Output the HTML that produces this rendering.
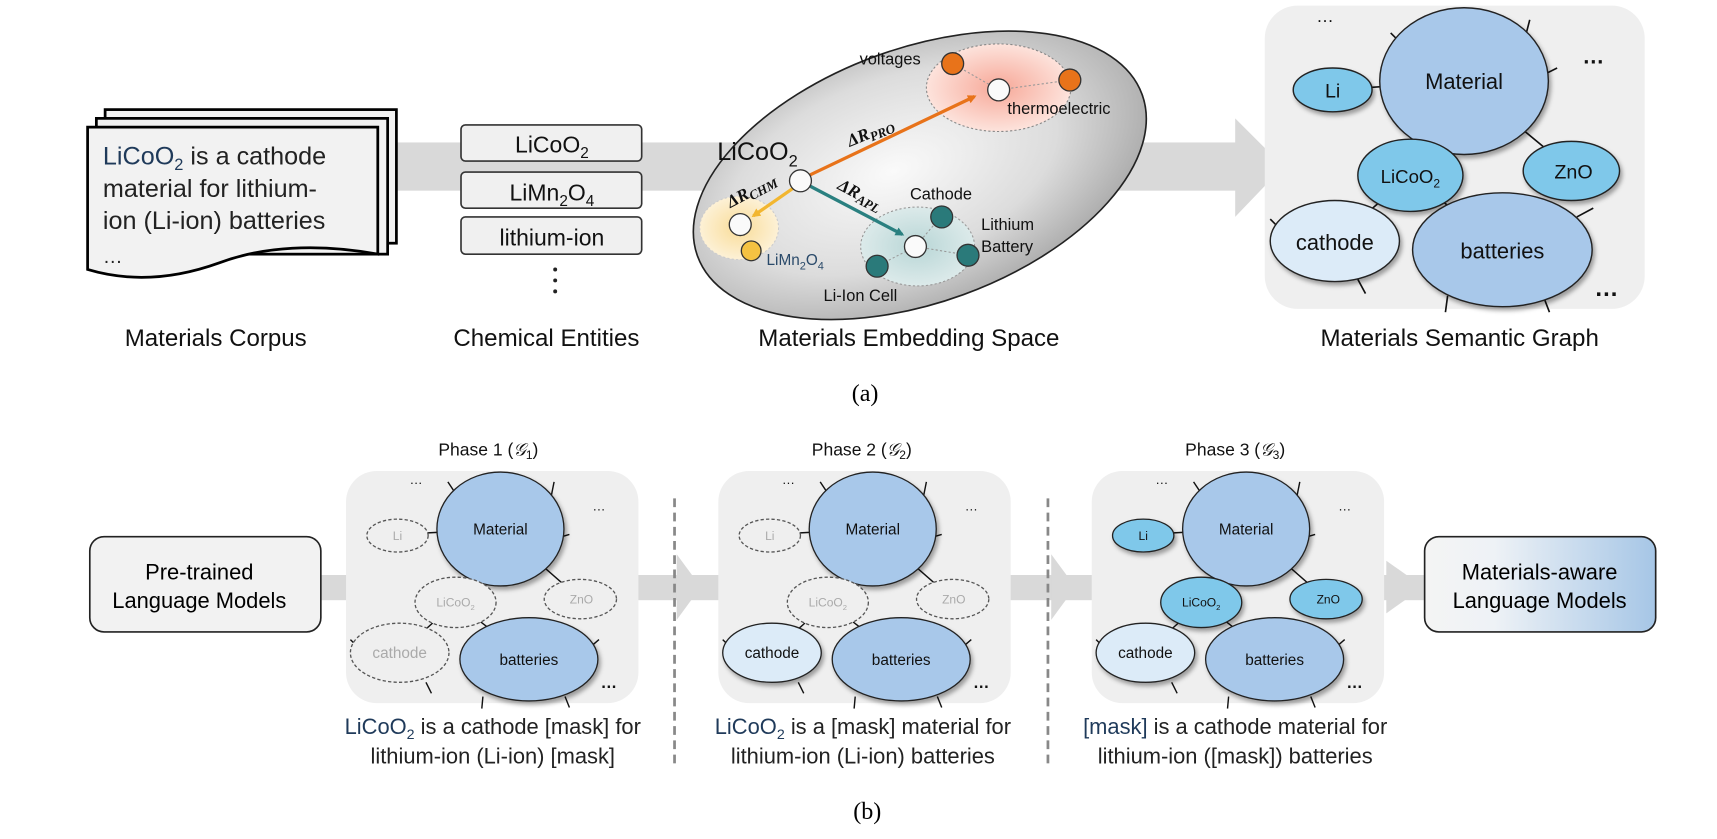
<!DOCTYPE html>
<html><head><meta charset="utf-8"><style>
html,body{margin:0;padding:0;background:#fff;}
svg{display:block;font-family:"Liberation Sans",sans-serif;}
</style></head><body>
<svg width="1717" height="839" viewBox="0 0 1568 766" xmlns="http://www.w3.org/2000/svg">
<defs>
<radialGradient id="eg" cx="45%" cy="45%" r="60%"><stop offset="0" stop-color="#fafafa"/><stop offset="0.6" stop-color="#dcdcdc"/><stop offset="1" stop-color="#a8a8a8"/></radialGradient>
<radialGradient id="og"><stop offset="0" stop-color="#f7a898"/><stop offset="1" stop-color="#fde3dc"/></radialGradient>
<radialGradient id="yg"><stop offset="0" stop-color="#f9dc98"/><stop offset="1" stop-color="#fdf1d6"/></radialGradient>
<radialGradient id="tg"><stop offset="0" stop-color="#b8d6d6"/><stop offset="1" stop-color="#dceaea"/></radialGradient>
<linearGradient id="rg" x1="0" x2="1"><stop offset="0" stop-color="#f4f4f4"/><stop offset="0.3" stop-color="#eef2f6"/><stop offset="1" stop-color="#a6c6e6"/></linearGradient>
<filter id="sh" x="-20%" y="-20%" width="150%" height="150%"><feDropShadow dx="2" dy="3" stdDeviation="2" flood-opacity="0.35"/></filter>
<marker id="ao" markerWidth="8" markerHeight="8" refX="6" refY="4" orient="auto" markerUnits="userSpaceOnUse"><path d="M0,0 L8,4 L0,8 z" fill="#e8731a"/></marker>
<marker id="ay" markerWidth="8" markerHeight="8" refX="6" refY="4" orient="auto" markerUnits="userSpaceOnUse"><path d="M0,0 L8,4 L0,8 z" fill="#f2b630"/></marker>
<marker id="at" markerWidth="8" markerHeight="8" refX="6" refY="4" orient="auto" markerUnits="userSpaceOnUse"><path d="M0,0 L8,4 L0,8 z" fill="#2a8080"/></marker>
</defs>

<!-- (a) band arrow -->
<rect x="340" y="130" width="790" height="44" fill="#d9d9d9"/>
<polygon points="1128,108 1172,152 1128,198" fill="#d9d9d9"/>

<!-- document stack -->
<rect x="96" y="100" width="266" height="122" fill="#f2f2f2" stroke="#000" stroke-width="2.5"/>
<rect x="88" y="108" width="266" height="124" fill="#f2f2f2" stroke="#000" stroke-width="2.5"/>
<path d="M80,116 L345,116 L345,232 C290,222 240,225 200,240 C150,258 110,255 80,246 Z" fill="#f2f2f2" stroke="#000" stroke-width="2.5"/>
<g font-size="23" fill="#222">
<text x="94" y="150"><tspan fill="#1f3a5a">LiCoO<tspan font-size="15" dy="5">2</tspan></tspan><tspan dy="-5"> is a cathode</tspan></text>
<text x="94" y="180">material for lithium-</text>
<text x="94" y="209">ion (Li-ion) batteries</text>
<text x="94" y="240" font-size="18">…</text>
</g>

<!-- entities -->
<g stroke="#333" stroke-width="1.5" fill="#f0f0f0">
<rect x="421" y="114" width="165" height="33" rx="4"/>
<rect x="421" y="157" width="165" height="33" rx="4"/>
<rect x="421" y="198" width="165" height="34" rx="4"/>
</g>
<g font-size="21" text-anchor="middle" fill="#111">
<text x="504" y="139">LiCoO<tspan font-size="14" dy="5">2</tspan></text>
<text x="504" y="183">LiMn<tspan font-size="14" dy="5">2</tspan><tspan dy="-5">O</tspan><tspan font-size="14" dy="5">4</tspan></text>
<text x="504" y="224">lithium-ion</text>
</g>
<g fill="#222"><circle cx="507" cy="246" r="1.8"/><circle cx="507" cy="256" r="1.8"/><circle cx="507" cy="266" r="1.8"/></g>

<!-- embedding ellipse -->
<ellipse cx="840" cy="160" rx="216" ry="116" transform="rotate(-20 840 160)" fill="url(#eg)" stroke="#222" stroke-width="1.5"/>
<ellipse cx="912" cy="80" rx="66" ry="40" fill="url(#og)" stroke="#888" stroke-dasharray="2,2"/>
<ellipse cx="675" cy="208" rx="36" ry="29" fill="url(#yg)" stroke="#ccc" stroke-dasharray="2,2"/>
<ellipse cx="838" cy="225" rx="52" ry="36" fill="url(#tg)" stroke="#999" stroke-dasharray="2,2"/>
<g stroke="#999" stroke-dasharray="2,2"><line x1="870" y1="58" x2="912" y2="82"/><line x1="977" y1="73" x2="912" y2="82"/><line x1="860" y1="197" x2="836" y2="225"/><line x1="884" y1="233" x2="836" y2="225"/><line x1="801" y1="243" x2="836" y2="225"/></g>
<line x1="739" y1="160" x2="890" y2="88" stroke="#e8731a" stroke-width="3" marker-end="url(#ao)"/>
<line x1="724" y1="172" x2="688" y2="197" stroke="#f2b630" stroke-width="3" marker-end="url(#ay)"/>
<line x1="740" y1="170" x2="824" y2="214" stroke="#2a8080" stroke-width="3" marker-end="url(#at)"/>
<g stroke="#333" stroke-width="1.2">
<circle cx="870" cy="58" r="10" fill="#e8731a"/><circle cx="977" cy="73" r="10" fill="#e8731a"/>
<circle cx="912" cy="82" r="10" fill="#fafafa"/>
<circle cx="731" cy="165" r="10" fill="#fafafa"/>
<circle cx="676" cy="205" r="10" fill="#fafafa"/><circle cx="686" cy="229" r="9" fill="#f5c242"/>
<circle cx="836" cy="225" r="10" fill="#fafafa"/>
<circle cx="860" cy="198" r="10" fill="#2a7a7a"/><circle cx="884" cy="233" r="10" fill="#2a7a7a"/><circle cx="801" cy="243" r="10" fill="#2a7a7a"/>
</g>
<g font-size="15" fill="#111">
<text x="785" y="59">voltages</text>
<text x="920" y="104">thermoelectric</text>
<text x="831" y="182">Cathode</text>
<text x="896" y="210">Lithium</text>
<text x="896" y="230">Battery</text>
<text x="752" y="275">Li-Ion Cell</text>
<text x="700" y="242" font-size="14" fill="#2a4a6a">LiMn<tspan font-size="10" dy="4">2</tspan><tspan dy="-4">O</tspan><tspan font-size="10" dy="4">4</tspan></text>
</g>
<text x="655" y="146" font-size="23" fill="#111">LiCoO<tspan font-size="15" dy="6">2</tspan></text>
<g font-family="Liberation Serif,serif" font-weight="bold" font-style="italic" fill="#111">
<text x="0" y="0" font-size="16" transform="translate(776,134) rotate(-22)">ΔR<tspan font-size="12" dy="3">PRO</tspan></text>
<text x="0" y="0" font-size="16" transform="translate(667,190) rotate(-28)">ΔR<tspan font-size="12" dy="3">CHM</tspan></text>
<text x="0" y="0" font-size="16" transform="translate(764,172) rotate(28)">ΔR<tspan font-size="12" dy="3">APL</tspan></text>
</g>

<!-- semantic graph -->
<rect x="1155" y="5" width="347" height="277" rx="30" fill="#efefef"/>
<g stroke="#111" stroke-width="1.5">
<line x1="1337" y1="74" x2="1288" y2="160"/><line x1="1337" y1="74" x2="1435" y2="155"/>
<line x1="1337" y1="74" x2="1217" y2="82"/><line x1="1288" y1="160" x2="1219" y2="220"/><line x1="1288" y1="160" x2="1372" y2="228"/>
<line x1="1270" y1="30" x2="1285" y2="45"/><line x1="1397" y1="18" x2="1390" y2="45"/><line x1="1410" y1="68" x2="1422" y2="62"/>
<line x1="1160" y1="200" x2="1170" y2="210"/><line x1="1240" y1="255" x2="1247" y2="268"/><line x1="1440" y1="198" x2="1455" y2="190"/>
<line x1="1322" y1="270" x2="1320" y2="285"/><line x1="1410" y1="272" x2="1415" y2="285"/>
</g>
<g stroke="#222" stroke-width="1.3" filter="url(#sh)">
<ellipse cx="1337" cy="74" rx="77" ry="67" fill="#a8c8ea"/>
<ellipse cx="1217" cy="82" rx="36" ry="20" fill="#7fc8ea"/>
<ellipse cx="1288" cy="160" rx="48" ry="33" fill="#7fc8ea"/>
<ellipse cx="1435" cy="156" rx="44" ry="27" fill="#7fc8ea"/>
<ellipse cx="1219" cy="220" rx="59" ry="37" fill="#dcebf8"/>
<ellipse cx="1372" cy="228" rx="82" ry="52" fill="#a8c8ea"/>
</g>
<g text-anchor="middle" fill="#111">
<text x="1337" y="81" font-size="20">Material</text>
<text x="1217" y="89" font-size="18">Li</text>
<text x="1288" y="167" font-size="17">LiCoO<tspan font-size="11" dy="4">2</tspan></text>
<text x="1437" y="163" font-size="18">ZnO</text>
<text x="1219" y="228" font-size="20">cathode</text>
<text x="1372" y="236" font-size="20">batteries</text>
<text x="1210" y="20" font-size="16">…</text>
<text x="1455" y="58" font-size="20" font-weight="bold">…</text>
<text x="1467" y="270" font-size="22" font-weight="bold">…</text>
</g>

<g font-size="22" text-anchor="middle" fill="#111">
<text x="197" y="316">Materials Corpus</text>
<text x="499" y="316">Chemical Entities</text>
<text x="830" y="316">Materials Embedding Space</text>
<text x="1333" y="316">Materials Semantic Graph</text>
</g>
<text x="790" y="366" font-size="22" text-anchor="middle" font-family="Liberation Serif,serif">(a)</text>

<!-- (b) -->
<rect x="293" y="525" width="1010" height="23" fill="#d9d9d9"/>
<polygon points="618,506 640,536 618,566" fill="#d9d9d9"/>
<polygon points="960,506 982,536 960,566" fill="#d9d9d9"/>
<polygon points="1266,512 1300,536 1266,560" fill="#d9d9d9"/>
<g stroke="#888" stroke-width="2.5" stroke-dasharray="8,5"><line x1="616" y1="455" x2="616" y2="702"/><line x1="957" y1="455" x2="957" y2="702"/></g>

<rect x="82" y="490" width="211" height="87" rx="13" fill="#f2f2f2" stroke="#222" stroke-width="1.5"/>
<text x="182" y="529" font-size="20" text-anchor="middle">Pre-trained</text>
<text x="182" y="555" font-size="20" text-anchor="middle">Language Models</text>
<rect x="1301" y="490" width="211" height="87" rx="13" fill="url(#rg)" stroke="#222" stroke-width="1.5"/>
<text x="1406" y="529" font-size="20" text-anchor="middle">Materials-aware</text>
<text x="1406" y="555" font-size="20" text-anchor="middle">Language Models</text>

<g font-size="16" text-anchor="middle" fill="#111">
<text x="446" y="416">Phase 1 (<tspan font-family="Liberation Serif,serif" font-style="italic">𝒢</tspan><tspan font-size="11" dy="3">1</tspan><tspan dy="-3">)</tspan></text>
<text x="787" y="416">Phase 2 (<tspan font-family="Liberation Serif,serif" font-style="italic">𝒢</tspan><tspan font-size="11" dy="3">2</tspan><tspan dy="-3">)</tspan></text>
<text x="1128" y="416">Phase 3 (<tspan font-family="Liberation Serif,serif" font-style="italic">𝒢</tspan><tspan font-size="11" dy="3">3</tspan><tspan dy="-3">)</tspan></text>
</g>

<!-- panels -->
<g id="p1" transform="translate(316,0)">
<rect x="0" y="430" width="267" height="212" rx="28" fill="#efefef"/>
<g stroke="#111" stroke-width="1.3">
<line x1="141" y1="483" x2="100" y2="550"/><line x1="141" y1="483" x2="214" y2="547"/><line x1="141" y1="483" x2="47" y2="488"/>
<line x1="100" y1="550" x2="49" y2="596"/><line x1="100" y1="550" x2="167" y2="602"/>
<line x1="93" y1="440" x2="101" y2="452"/><line x1="190" y1="440" x2="187" y2="455"/><line x1="197" y1="490" x2="204" y2="488"/>
<line x1="4" y1="584" x2="10" y2="590"/><line x1="73" y1="623" x2="78" y2="633"/><line x1="224" y1="590" x2="231" y2="584"/>
<line x1="125" y1="636" x2="124" y2="647"/><line x1="200" y1="636" x2="204" y2="646"/>
</g>
</g>
<use href="#p1" transform="translate(340,0)"/>
<use href="#p1" transform="translate(681,0)"/>

<!-- panel nodes -->
<g stroke="#222" stroke-width="1.2" filter="url(#sh)">
<ellipse cx="457" cy="483" rx="58" ry="52" fill="#a8c8ea"/><ellipse cx="483" cy="602" rx="63" ry="38" fill="#a8c8ea"/>
<ellipse cx="797" cy="483" rx="58" ry="52" fill="#a8c8ea"/><ellipse cx="823" cy="602" rx="63" ry="38" fill="#a8c8ea"/>
<ellipse cx="1138" cy="483" rx="58" ry="52" fill="#a8c8ea"/><ellipse cx="1164" cy="602" rx="63" ry="38" fill="#a8c8ea"/>
<ellipse cx="705" cy="596" rx="45" ry="27" fill="#dcebf8"/>
<ellipse cx="1046" cy="596" rx="45" ry="27" fill="#dcebf8"/>
<ellipse cx="1044" cy="489" rx="28" ry="15" fill="#7fc8ea"/>
<ellipse cx="1097" cy="550" rx="37" ry="23" fill="#7fc8ea"/>
<ellipse cx="1211" cy="547" rx="33" ry="18" fill="#7fc8ea"/>
</g>
<g stroke="#555" stroke-width="1.2" stroke-dasharray="3,2" fill="#efefef">
<ellipse cx="363" cy="489" rx="28" ry="15"/><ellipse cx="416" cy="550" rx="37" ry="23"/><ellipse cx="530" cy="547" rx="33" ry="18"/><ellipse cx="365" cy="596" rx="45" ry="27"/>
<ellipse cx="703" cy="489" rx="28" ry="15"/><ellipse cx="756" cy="550" rx="37" ry="23"/><ellipse cx="870" cy="547" rx="33" ry="18"/>
</g>
<g text-anchor="middle" font-size="14" fill="#111">
<text x="457" y="488">Material</text><text x="483" y="607">batteries</text>
<text x="797" y="488">Material</text><text x="823" y="607">batteries</text><text x="705" y="601">cathode</text>
<text x="1138" y="488">Material</text><text x="1164" y="607">batteries</text><text x="1046" y="601">cathode</text>
<text x="1044" y="493" font-size="11">Li</text><text x="1097" y="554" font-size="11">LiCoO<tspan font-size="7" dy="3">2</tspan></text><text x="1213" y="551" font-size="11">ZnO</text>
</g>
<g text-anchor="middle" font-size="11" fill="#aaa">
<text x="363" y="493">Li</text><text x="416" y="554">LiCoO<tspan font-size="7" dy="3">2</tspan></text><text x="531" y="551">ZnO</text><text x="365" y="601" font-size="14">cathode</text>
<text x="703" y="493">Li</text><text x="756" y="554">LiCoO<tspan font-size="7" dy="3">2</tspan></text><text x="871" y="551">ZnO</text>
</g>
<g text-anchor="middle" fill="#111">
<text x="380" y="442" font-size="12">…</text><text x="547" y="466" font-size="12">…</text><text x="556" y="628" font-size="15" font-weight="bold">…</text>
<text x="720" y="442" font-size="12">…</text><text x="887" y="466" font-size="12">…</text><text x="896" y="628" font-size="15" font-weight="bold">…</text>
<text x="1061" y="442" font-size="12">…</text><text x="1228" y="466" font-size="12">…</text><text x="1237" y="628" font-size="15" font-weight="bold">…</text>
</g>

<g font-size="20" text-anchor="middle" fill="#222">
<text x="450" y="670"><tspan fill="#1f3a5a">LiCoO<tspan font-size="13" dy="5">2</tspan></tspan><tspan dy="-5"> is a cathode [mask] for</tspan></text>
<text x="450" y="697">lithium-ion (Li-ion) [mask]</text>
<text x="788" y="670"><tspan fill="#1f3a5a">LiCoO<tspan font-size="13" dy="5">2</tspan></tspan><tspan dy="-5"> is a [mask] material for</tspan></text>
<text x="788" y="697">lithium-ion (Li-ion) batteries</text>
<text x="1128" y="670"><tspan fill="#1f3a5a">[mask]</tspan> is a cathode material for</text>
<text x="1128" y="697">lithium-ion ([mask]) batteries</text>
</g>
<text x="792" y="748" font-size="22" text-anchor="middle" font-family="Liberation Serif,serif">(b)</text>
</svg>
</body></html>
